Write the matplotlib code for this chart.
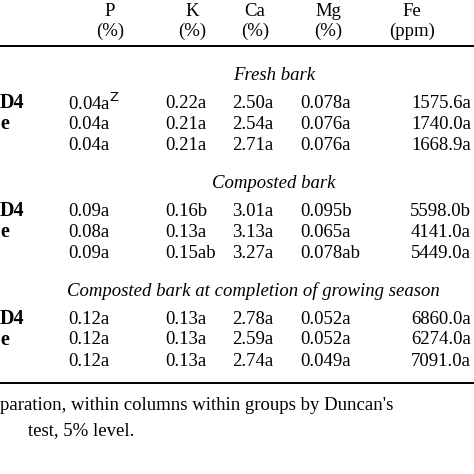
import matplotlib
matplotlib.use("Agg")
import matplotlib.pyplot as plt

headers = ["P", "K", "Ca", "Mg", "Fe"]
units = ["(%)", "(%)", "(%)", "(%)", "(ppm)"]
groups = ["Fresh bark", "Composted bark", "Composted bark at completion of growing season"]
row_labels = ["D4", "e", ""]
P = [["0.04a$^{\\rm Z}$", "0.04a", "0.04a"], ["0.09a", "0.08a", "0.09a"], ["0.12a", "0.12a", "0.12a"]]
K = [["0.22a", "0.21a", "0.21a"], ["0.16b", "0.13a", "0.15ab"], ["0.13a", "0.13a", "0.13a"]]
Ca = [["2.50a", "2.54a", "2.71a"], ["3.01a", "3.13a", "3.27a"], ["2.78a", "2.59a", "2.74a"]]
Mg = [["0.078a", "0.076a", "0.076a"], ["0.095b", "0.065a", "0.078ab"], ["0.052a", "0.052a", "0.049a"]]
Fe = [["1575.6a", "1740.0a", "1668.9a"], ["5598.0b", "4141.0a", "5449.0a"], ["6860.0a", "6274.0a", "7091.0a"]]
footnote = ["paration, within columns within groups by Duncan's", "test, 5% level."]

plt.rcParams['font.family'] = ['Liberation Serif', 'DejaVu Serif']
fig = plt.figure(figsize=(4.74, 4.74), dpi=100)
ax = fig.add_axes([0, 0, 1, 1])
ax.set_xlim(0, 474); ax.set_ylim(474, 0); ax.axis('off')
fs = 13.5
hx = [110, 192, 255, 328, 412]
for x, h, u in zip(hx, headers, units):
    ax.text(x, 11, h, ha='center', va='center', fontsize=fs)
    ax.text(x, 31, u, ha='center', va='center', fontsize=fs)
ax.plot([0, 474], [46, 46], color='black', lw=1.4)
cols = [P, K, Ca, Mg, Fe]
cx = [68, 165, 232, 300, 471]
aligns = ['left', 'left', 'left', 'left', 'right']
gy = [75, 183, 291]
for g, (name, y0) in enumerate(zip(groups, gy)):
    ax.text(274 if g < 2 else 253, y0, name, ha='center', va='center', fontsize=fs, style='italic')
    for r in range(3):
        y = y0 + 28 + 21 * r
        ax.text(0, y, row_labels[r], ha='left', va='center', fontsize=fs+1, fontweight='bold')
        for c, x, a in zip(cols, cx, aligns):
            ax.text(x, y, c[g][r], ha=a, va='center', fontsize=fs)
ax.plot([0, 474], [383, 383], color='black', lw=1.4)
ax.text(0, 406, footnote[0], ha='left', va='center', fontsize=fs)
ax.text(28, 431, footnote[1], ha='left', va='center', fontsize=fs)
fig.savefig("out.png", dpi=100)
